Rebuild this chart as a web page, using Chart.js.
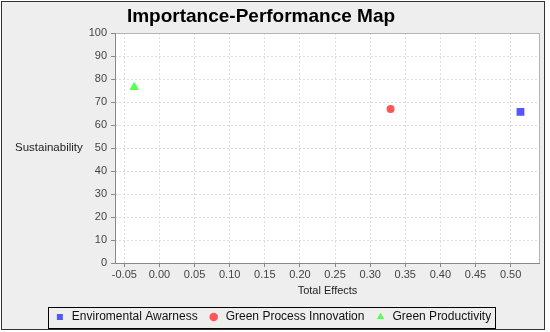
<!DOCTYPE html>
<html>
<head>
<meta charset="utf-8">
<script src="https://cdn.jsdelivr.net/npm/chart.js@4.4.0/dist/chart.umd.min.js"></script>
<style>
  html, body { margin: 0; padding: 0; background: #fff; }
  #wrap { width: 550px; height: 332px; }
</style>
</head>
<body>
<div id="wrap"><canvas id="ipmaChart" width="550" height="332"></canvas></div>
<script>
// data
const constructs = ["Enviromental Awarness", "Green Process Innovation", "Green Productivity"];
const totalEffects = [0.514, 0.329, -0.036];
const performance = [65.7, 67.0, 76.4];
const markerStyles = ["rect", "circle", "triangle"];
const markerColors = ["#5555ff", "#ff5555", "#55ff55"];
const markerSizes = [5.5, 4, 5.5];
const xTicks = [-0.05, 0.00, 0.05, 0.10, 0.15, 0.20, 0.25, 0.30, 0.35, 0.40, 0.45, 0.50];
const yTicks = [0, 10, 20, 30, 40, 50, 60, 70, 80, 90, 100];

const FONT = "'Liberation Sans', Arial, sans-serif";

// background, frame, title and the horizontal y label
const decor = {
  id: 'decor',
  beforeDraw(chart) {
    const c = chart.ctx, a = chart.chartArea;
    c.save();
    c.fillStyle = '#eeeeee';
    c.fillRect(1, 1, 544, 329);
    c.strokeStyle = '#333';
    c.lineWidth = 1;
    c.strokeRect(1.5, 1.5, 543, 328);
    c.fillStyle = '#fff';
    c.fillRect(a.left, a.top, a.right - a.left, a.bottom - a.top);
    c.restore();
  },
  afterDraw(chart) {
    const c = chart.ctx, a = chart.chartArea;
    c.save();
    // plot outline
    c.strokeStyle = '#b4b4b4';
    c.lineWidth = 1;
    c.setLineDash([]);
    c.strokeRect(a.left + 0.5, a.top + 0.5, a.right - a.left - 1, a.bottom - a.top);
    c.strokeStyle = '#888';
    c.beginPath();
    c.moveTo(a.left + 0.5, a.top);
    c.lineTo(a.left + 0.5, a.bottom + 0.5);
    c.lineTo(a.right, a.bottom + 0.5);
    c.stroke();
    // title
    c.fillStyle = '#000';
    c.font = 'bold 19px ' + FONT;
    c.textAlign = 'center';
    c.textBaseline = 'middle';
    c.fillText('Importance-Performance Map', 261, 17);
    // y label
    c.fillStyle = '#222';
    c.font = '11.5px ' + FONT;
    c.textAlign = 'left';
    c.fillText('Sustainability', 15, (a.top + a.bottom) / 2);
    // legend frame
    const hb = chart.legend.legendHitBoxes;
    if (hb && hb.length) {
      const l = Math.min(...hb.map(b => b.left)) - 6;
      const r = Math.max(...hb.map(b => b.left + b.width)) + 4;
      const t = hb[0].top - 4;
      const btm = hb[0].top + hb[0].height + 5;
      c.strokeStyle = '#000';
      c.strokeRect(Math.round(l) + 0.5, Math.round(t) + 0.5, Math.round(r - l), Math.round(btm - t));
    }
    c.restore();
  }
};

new Chart(document.getElementById('ipmaChart'), {
  type: 'scatter',
  data: {
    datasets: constructs.map((name, i) => ({
      label: name,
      data: [{ x: totalEffects[i], y: performance[i] }],
      pointStyle: markerStyles[i],
      backgroundColor: markerColors[i],
      borderColor: markerColors[i],
      borderWidth: 0,
      pointRadius: markerSizes[i],
      pointHoverRadius: markerSizes[i]
    }))
  },
  options: {
    responsive: false,
    animation: false,
    layout: {
      padding: { left: 5, right: 10, top: 33, bottom: 0 }
    },
    plugins: {
      legend: {
        position: 'bottom',
        maxHeight: 31,
        labels: {
          usePointStyle: true,
          boxWidth: 12,
          boxHeight: 6,
          padding: 10,
          color: '#111',
          font: { size: 12, family: FONT }
        }
      },
      tooltip: { enabled: false }
    },
    scales: {
      x: {
        type: 'linear',
        min: -0.0633,
        max: 0.5418,
        afterBuildTicks: s => { s.ticks = xTicks.map(v => ({ value: v })); },
        afterFit: s => { s.height = 38; },
        ticks: {
          padding: 1,
          color: '#444',
          font: { size: 11, family: FONT },
          callback: v => v.toFixed(2)
        },
        grid: {
          color: '#dedede',
          tickLength: 4,
          tickColor: '#888',
          tickBorderDash: [],
        },
        border: { display: false, dash: [2, 2] },
        title: {
          display: true,
          text: 'Total Effects',
          color: '#222',
          font: { size: 11, family: FONT },
          padding: { top: 0, bottom: 3 }
        }
      },
      y: {
        min: 0,
        max: 100,
        afterBuildTicks: s => { s.ticks = yTicks.map(v => ({ value: v })); },
        afterFit: s => { s.width = 110; },
        ticks: {
          padding: 4,
          color: '#444',
          font: { size: 11, family: FONT }
        },
        grid: {
          color: '#dedede',
          tickLength: 4,
          tickColor: '#888',
          tickBorderDash: [],
        },
        border: { display: false, dash: [2, 2] }
      }
    }
  },
  plugins: [decor]
});
</script>
</body>
</html>
